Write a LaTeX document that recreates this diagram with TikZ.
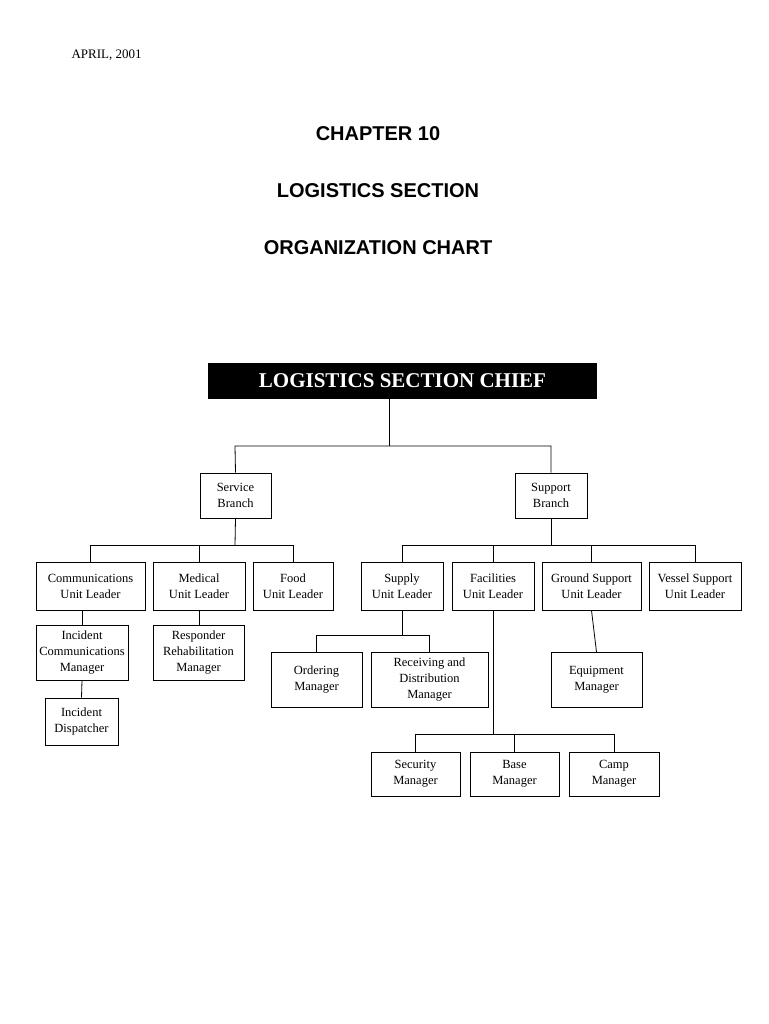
\documentclass[tikz,border=0pt]{standalone}
\usepackage{fontspec}
\setmainfont{Liberation Serif}
\newfontfamily\hsans{Liberation Sans}
\begin{document}
\begin{tikzpicture}[x=1pt,y=-1pt,
  bx/.style={draw,line width=0.8pt,align=center,inner sep=0pt,font=\fontsize{12.5}{16}\selectfont},
  ln/.style={line width=0.8pt},
  hd/.style={font=\hsans\bfseries\fontsize{20}{24}\selectfont}]
\useasboundingbox (0,0) rectangle (768,1024);
\node[anchor=west,font=\fontsize{13}{16}\selectfont] (date) at (68,55) {APRIL, 2001};
\node[hd] (h1) at (378,134) {CHAPTER 10};
\node[hd] (h2) at (378,191) {LOGISTICS SECTION};
\node[hd] (h3) at (378,248) {ORGANIZATION CHART};
\newcommand{\bxat}[6]{\node[bx,minimum width=#3-#2,minimum height=#5-#4] (#1) at ({(#2+#3)/2},{(#4+#5)/2}) {#6};}
\node[fill=black,text=white,font=\bfseries\fontsize{21}{24}\selectfont,minimum width=389,minimum height=36,inner sep=0pt] (chief) at (402.5,381) {LOGISTICS SECTION CHIEF};
\bxat{svc}{200}{271}{473}{518}{Service\\Branch}
\bxat{sup}{515}{587}{473}{518}{Support\\Branch}
\bxat{comm}{36}{145}{562}{610}{Communications\\Unit Leader}
\bxat{med}{153}{245}{562}{610}{Medical\\Unit Leader}
\bxat{food}{253}{333}{562}{610}{Food\\Unit Leader}
\bxat{supply}{361}{443}{562}{610}{Supply\\Unit Leader}
\bxat{fac}{452}{534}{562}{610}{Facilities\\Unit Leader}
\bxat{gnd}{542}{641}{562}{610}{Ground Support\\Unit Leader}
\bxat{ves}{649}{741}{562}{610}{Vessel Support\\Unit Leader}
\bxat{icm}{36}{128}{625}{680}{Incident\\Communications\\Manager}
\bxat{disp}{45}{118}{698}{745}{Incident\\Dispatcher}
\bxat{resp}{153}{244}{625}{680}{Responder\\Rehabilitation\\Manager}
\bxat{ord}{271}{362}{652}{707}{Ordering\\Manager}
\bxat{rec}{371}{488}{652}{707}{Receiving and\\Distribution\\Manager}
\bxat{equip}{551}{642}{652}{707}{Equipment\\Manager}
\bxat{sec}{371}{460}{752}{796}{Security\\Manager}
\bxat{base}{470}{559}{752}{796}{Base\\Manager}
\bxat{camp}{569}{659}{752}{796}{Camp\\Manager}
\draw[ln] (389,399) -- (389,446);
\draw[ln] (svc.north) -- (235,446) -- (551,446) -- (sup.north);
\draw[ln] (svc.south) -- (235,545);
\draw[ln] (comm.north) -- (90.5,545) -- (293,545) -- (food.north);
\draw[ln] (med.north) -- (199,545);
\draw[ln] (sup.south) -- (551,545);
\draw[ln] (supply.north) -- (402,545) -- (695,545) -- (ves.north);
\draw[ln] (fac.north) -- (493,545);
\draw[ln] (gnd.north) -- (591.5,545);
\draw[ln] (82,610) -- (icm.north);
\draw[ln] (icm.south) -- (disp.north);
\draw[ln] (199,610) -- (199,625);
\draw[ln] (supply.south) -- (402,635);
\draw[ln] (ord.north) -- (316.5,635) -- (429.5,635) -- (rec.north);
\draw[ln] (gnd.south) -- (596.5,652);
\draw[ln] (fac.south) -- (493,734);
\draw[ln] (sec.north) -- (415.5,734) -- (614,734) -- (camp.north);
\draw[ln] (base.north) -- (514.5,734);
\end{tikzpicture}
\end{document}
